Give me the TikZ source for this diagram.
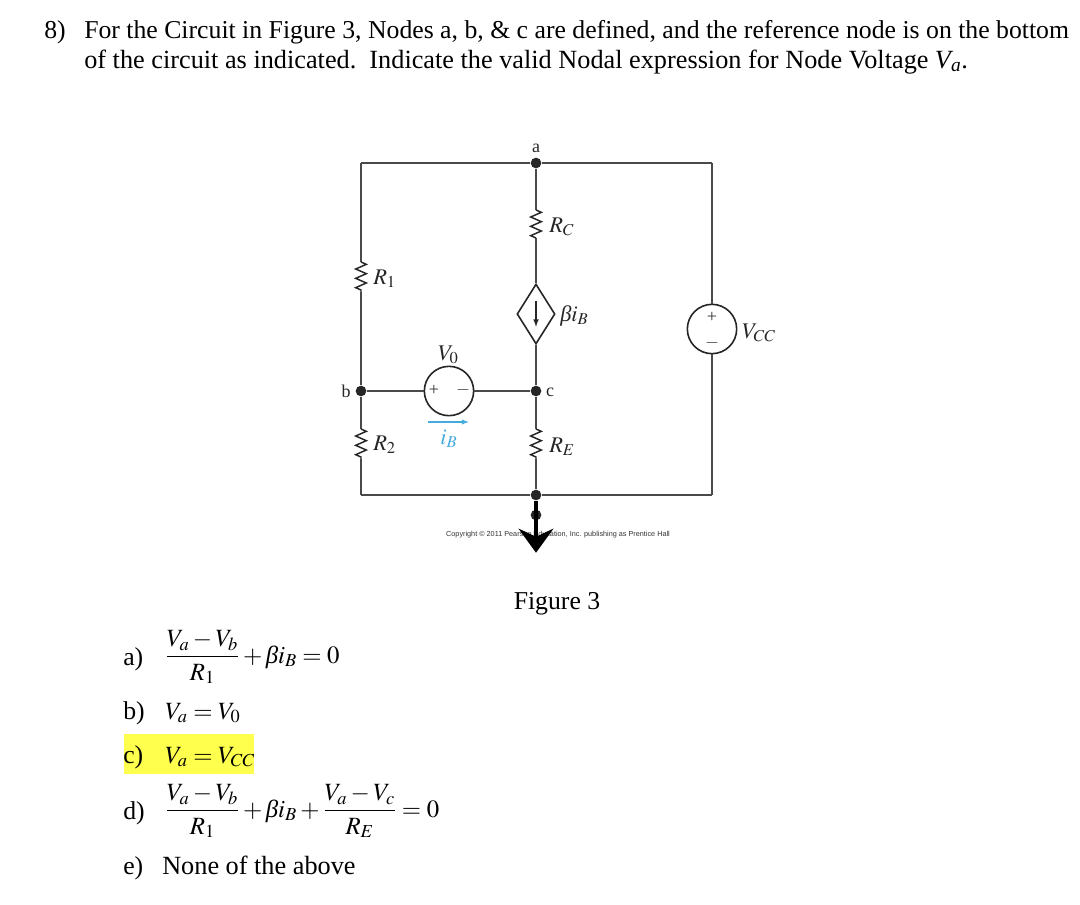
\documentclass[tikz,border=0pt]{standalone}
\usepackage{amsmath}
\usepackage{mathptmx}
\usepackage{fontspec}
\setmainfont{Liberation Serif}
\newfontfamily\copyfont{Liberation Sans}
\usetikzlibrary{arrows,arrows.meta,shapes,decorations.pathmorphing}
\definecolor{wirecol}{HTML}{4A4A4A}
\definecolor{iblue}{HTML}{45ABDD}
\definecolor{marker}{HTML}{FFFF4D}
\newcommand{\bigtext}{\fontsize{19.3}{23}\selectfont}
\newcommand{\widetext}{\fontsize{19.7}{23}\selectfont}
\newcommand{\mathsize}{\fontsize{18.6}{22}\selectfont}
\newcommand{\parttext}{\fontsize{16.8}{20}\selectfont}
\newcommand{\smalltext}{\fontsize{13.5}{16}\selectfont}
\newcommand{\ibeta}{\text{\itshape β}}
\tikzstyle{wire}=[draw=wirecol,line width=1pt]
\tikzstyle{junction}=[circle,fill=black!85,minimum size=8pt,inner sep=0pt]
\tikzstyle{corner}=[inner sep=0pt,minimum size=0pt]
\tikzstyle{source}=[circle,draw=black!85,line width=1.2pt,minimum size=37pt,inner sep=0pt]
\tikzstyle{depsource}=[diamond,draw=black!85,line width=1.2pt,minimum width=28.5pt,minimum height=45pt,shape aspect=0.63,inner sep=0pt]
\tikzstyle{resistor}=[draw=black!85,line width=1.1pt,decorate,decoration={zigzag,amplitude=4pt,segment length=7pt}]
\tikzstyle{polarity}=[inner sep=0pt,font=\smalltext,text=black!80]
\tikzstyle{line text}=[anchor=base west,inner sep=0pt,font=\bigtext]
\tikzstyle{math text}=[anchor=base west,inner sep=0pt,font=\mathsize]
\tikzstyle{circuit label}=[anchor=base west,inner sep=0pt,font=\parttext,text=black!85]
\begin{document}
\begin{tikzpicture}[x=0.75pt,y=-0.75pt]
    \useasboundingbox (0,0) rectangle (1080,904);
    % Question text
    \node[line text] (num) at (44,38) {8)};
    \node[line text] (first) at (84,38) {For the Circuit in Figure 3, Nodes a, b, \& c are defined, and the reference node is on the bottom};
    \node[line text,font=\widetext] (second) at (84,68) {of the circuit as indicated.\ \ Indicate the valid Nodal expression for Node Voltage \textit{V\textsubscript{a}}.};

    % First we draw the junctions and corners
    \foreach \pos/\name in {{(536,163)/a},{(361,391)/b},{(536,391)/c},{(536,495)/gnd},{(536,515)/gndlow}}
        \node[junction] (\name) at \pos {};
    \foreach \pos/\name in {{(361,163)/tl},{(712,163)/tr},{(361,495)/bl},{(712,495)/br},
        {(361,262)/Rone1},{(361,292)/Rone2},{(536,210)/RC1},{(536,238)/RC2},
        {(361,429)/Rtwo1},{(361,459)/Rtwo2},{(536,429)/RE1},{(536,459)/RE2}}
        \node[corner] (\name) at \pos {};

    % Sources
    \node[source] (Vcc) at (712,329) {};
    \node[source] (Vzero) at (449,391) {};
    \node[depsource] (dep) at (536,314) {};
    \node[polarity] (Vccp) at (712,317) {+};
    \node[polarity] (Vccm) at (712,343) {$-$};
    \node[polarity] (Vzerop) at (434,390) {+};
    \node[polarity] (Vzerom) at (463,390) {$-$};

    % Connect with wires
    \foreach \source/\dest in {tl/a,a/tr,tl/Rone1,Rone2/b,b/Rtwo1,Rtwo2/bl,bl/gnd,gnd/br,
        a/RC1,RC2/dep,dep/c,c/RE1,RE2/gnd,tr/Vcc,Vcc/br,b/Vzero,Vzero/c}
        \path[wire] (\source) -- (\dest);
    \foreach \source/\dest in {Rone1/Rone2,RC1/RC2,Rtwo1/Rtwo2,RE1/RE2}
        \path[resistor] (\source.center) -- (\dest.center);

    % Arrows
    \node[corner] (dep1) at (536,301) {};
    \node[corner] (dep2) at (536,327) {};
    \path[draw=black!85,line width=0.9pt,-latex] (dep1) -- (dep2);
    \node[corner] (ib1) at (428,422) {};
    \node[corner] (ib2) at (469,422) {};
    \path[draw=iblue,line width=0.8pt,-latex] (ib1) -- (ib2);

    % Circuit labels
    \node[inner sep=0pt,font=\smalltext,text=black!85] (alab) at (536,148) {a};
    \node[inner sep=0pt,font=\smalltext,text=black!85] (blab) at (346,391) {b};
    \node[inner sep=0pt,font=\smalltext,text=black!85] (clab) at (550,392) {c};
    \node[circuit label] (Rcl) at (549,232) {$R_C$};
    \node[circuit label] (Ronel) at (373,284) {$R_1$};
    \node[circuit label] (Rtwol) at (373,450) {$R_2$};
    \node[circuit label] (Rel) at (549,452) {$R_E$};
    \node[circuit label] (depl) at (560,321) {$\ibeta i_B$};
    \node[circuit label] (Vccl) at (742,338) {$V_{CC}$};
    \node[circuit label] (Vzerol) at (438,360) {$V_0$};
    \node[circuit label,text=iblue] (ibl) at (440,444) {$i_B$};

    \node[inner sep=0pt,font=\copyfont\fontsize{5.45}{7}\selectfont,text=black!80] (copy) at (558,535) {Copyright © 2011 Pearson Education, Inc. publishing as Prentice Hall};
    \node[corner] (gndend) at (536,553) {};
    \path[draw=black,line width=3.4pt,-{Stealth[length=18pt,width=26pt,inset=6pt]}] (gnd) -- (gndend);

    \node[inner sep=0pt,font=\bigtext] (fig) at (557,604) {Figure 3};

    % Answers
    \fill[marker] (124,734) rectangle (254,774);
    \foreach \pos/\name/\txt in {{(123,665)/opta/a)},{(123,719)/optb/b)},{(123,763)/optc/c)},{(123,819)/optd/d)},{(123,874)/opte/e)}}
        \node[line text] (\name) at \pos {\txt};
    \node[anchor=west,inner sep=0pt,font=\mathsize] (ansa) at (165,657) {$\dfrac{V_a-V_b}{R_1}+\ibeta i_B=0$};
    \node[math text] (ansb) at (165,719) {$V_a=V_0$};
    \node[math text] (ansc) at (165,763) {$V_a=V_{CC}$};
    \node[anchor=west,inner sep=0pt,font=\mathsize] (ansd) at (165,811) {$\dfrac{V_a-V_b}{R_1}+\ibeta i_B+\dfrac{V_a-V_c}{R_E}=0$};
    \node[line text,font=\widetext] (anse) at (162,874) {None of the above};
\end{tikzpicture}
\end{document}
